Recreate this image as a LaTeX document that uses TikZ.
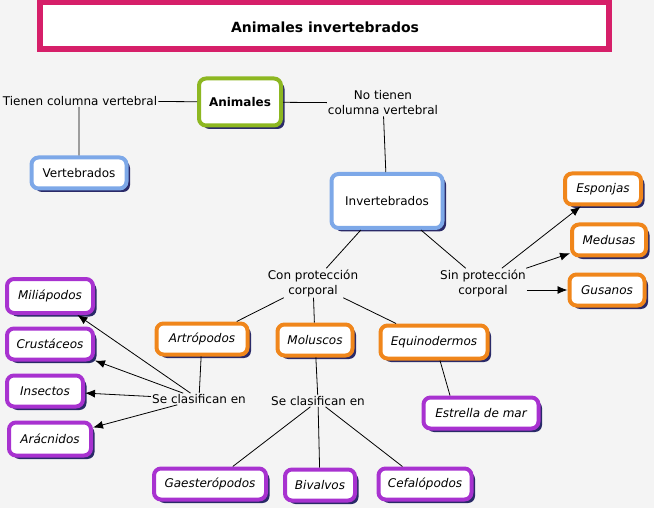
\documentclass[tikz,border=0pt]{standalone}
\usepackage{fontspec}
\setmainfont{DejaVu Sans}
\usetikzlibrary{arrows.meta,shadows}
\definecolor{fondo}{HTML}{F4F4F4}
\definecolor{rosa}{HTML}{D61F69}
\definecolor{verde}{HTML}{8DB721}
\definecolor{azul}{HTML}{7DA8E8}
\definecolor{naranja}{HTML}{F0861B}
\definecolor{morado}{HTML}{A832D0}
\definecolor{sombra}{HTML}{2A2A68}
\tikzset{
  caja/.style={draw=#1,line width=4pt,rounded corners=7pt,fill=white,inner sep=0pt,
    minimum height=31pt,drop shadow={shadow xshift=3.5pt,shadow yshift=-3.5pt,fill=sombra,opacity=1}},
  etiq/.style={align=center,inner sep=1pt},
  linea/.style={line width=0.8pt},
  flecha/.style={line width=0.8pt,-{Latex[length=10pt,width=8pt]}}
}
\begin{document}
\begin{tikzpicture}[x=1pt,y=-1pt,every node/.style={font=\fontsize{12}{15}\selectfont}]
  \useasboundingbox[fill=fondo] (0,0) rectangle (654,508);
  \draw[rosa,line width=6pt,fill=white] (40,2) rectangle (609,49);
  \node[font=\fontsize{14}{17}\selectfont\bfseries] (tit) at (325,27) {Animales invertebrados};
  \node[etiq] (tienen) at (80,101) {Tienen columna vertebral};
  \node[caja=verde,minimum width=82pt,minimum height=47pt] (anim) at (240,102) {\bfseries Animales};
  \node[caja=azul,minimum width=95pt] (vert) at (79,173) {Vertebrados};
  \node[etiq] (notien) at (383,103) {No tienen\\columna vertebral};
  \node[caja=azul,minimum width=111pt,minimum height=54pt] (inv) at (387,201) {Invertebrados};
  \node[etiq] (con) at (313,283) {Con protección\\corporal};
  \node[etiq] (sin) at (483,283) {Sin protección\\corporal};
  \node[caja=naranja,minimum width=76pt] (esp) at (603,189) {\itshape Esponjas};
  \node[caja=naranja,minimum width=74pt] (med) at (609,240) {\itshape Medusas};
  \node[caja=naranja,minimum width=75pt] (gus) at (607,290) {\itshape Gusanos};
  \node[caja=naranja,minimum width=91pt] (artr) at (202,339) {\itshape Artrópodos};
  \node[caja=naranja,minimum width=75pt] (mol) at (315,340) {\itshape Moluscos};
  \node[caja=naranja,minimum width=107pt,minimum height=33pt] (equi) at (434,342) {\itshape Equinodermos};
  \node[etiq] (sca) at (199,399) {Se clasifican en};
  \node[etiq] (scm) at (318,401) {Se clasifican en};
  \node[caja=morado,minimum width=86pt,minimum height=34pt] (mil) at (50,296) {\itshape Miliápodos};
  \node[caja=morado,minimum width=86pt] (cru) at (50,344) {\itshape Crustáceos};
  \node[caja=morado,minimum width=76pt] (ins) at (45,391) {\itshape Insectos};
  \node[caja=morado,minimum width=82pt,minimum height=33pt] (ara) at (50,439) {\itshape Arácnidos};
  \node[caja=morado,minimum width=112pt] (gae) at (210,484) {\itshape Gaesterópodos};
  \node[caja=morado,minimum width=70pt] (biv) at (320,485) {\itshape Bivalvos};
  \node[caja=morado,minimum width=93pt] (cef) at (425,484) {\itshape Cefalópodos};
  \node[caja=morado,minimum width=115pt] (est) at (481,413) {\itshape Estrella de mar};
  \draw[linea] (tienen) -- (anim) (vert.north |- tienen.south) -- (vert)
    (anim) -- (notien) (notien) -- (inv)
    (inv) -- (con) (inv) -- (sin)
    (con) -- (artr) (con) -- (mol) (con) -- (equi)
    (artr) -- (sca) (mol) -- (scm)
    (scm) -- (gae) (scm) -- (biv) (scm) -- (cef)
    ([xshift=6pt]equi.south) -- ([xshift=-31pt]est.north);
  \draw[flecha] (sin) -- (esp);
  \draw[flecha] (sin) -- (med);
  \draw[flecha] (sin.east |- gus) -- (gus);
  \draw[flecha] (sca) -- (mil);
  \draw[flecha] (sca) -- (cru);
  \draw[flecha] (sca) -- (ins);
  \draw[flecha] (sca) -- (ara);
\end{tikzpicture}
\end{document}
